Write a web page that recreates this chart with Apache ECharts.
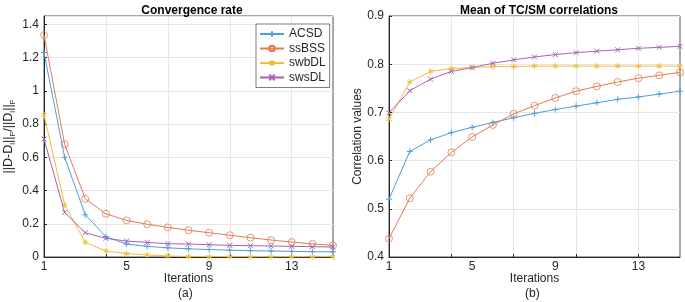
<!DOCTYPE html>
<html>
<head>
<meta charset="utf-8">
<script src="https://cdn.jsdelivr.net/npm/echarts@6/dist/echarts.min.js"></script>
<style>
  html, body { margin: 0; padding: 0; background: #fff; }
  #chart { width: 685px; height: 302px; }
</style>
</head>
<body>
<div id="chart"></div>
<script>
// ---- data ----
const iterations = ['1','2','3','4','5','6','7','8','9','10','11','12','13','14','15'];
const seriesNames = ['ACSD', 'ssBSS', 'swbDL', 'swsDL'];

// (a) Convergence rate
const acsdConv  = [1.23, 0.60, 0.254, 0.122, 0.078, 0.064, 0.055, 0.049, 0.045, 0.041, 0.038, 0.036, 0.034, 0.032, 0.031];
const ssbssConv = [1.335, 0.678, 0.35, 0.26, 0.22, 0.197, 0.178, 0.161, 0.146, 0.131, 0.116, 0.102, 0.090, 0.079, 0.070];
const swbdlConv = [0.855, 0.314, 0.088, 0.036, 0.020, 0.012, 0.006, 0.003, 0.002, 0.002, 0.001, 0.001, 0.001, 0.001, 0.001];
const swsdlConv = [0.71, 0.268, 0.146, 0.112, 0.096, 0.088, 0.080, 0.078, 0.074, 0.070, 0.068, 0.066, 0.064, 0.062, 0.060];

// (b) Mean of TC/SM correlations
const acsdCorr  = [0.520, 0.619, 0.643, 0.658, 0.669, 0.679, 0.689, 0.698, 0.706, 0.713, 0.720, 0.727, 0.732, 0.738, 0.744];
const ssbssCorr = [0.438, 0.522, 0.577, 0.617, 0.649, 0.674, 0.697, 0.714, 0.730, 0.744, 0.754, 0.763, 0.771, 0.777, 0.783];
const swbdlCorr = [0.686, 0.763, 0.785, 0.791, 0.793, 0.795, 0.795, 0.796, 0.796, 0.796, 0.796, 0.796, 0.796, 0.796, 0.796];
const swsdlCorr = [0.699, 0.745, 0.769, 0.785, 0.793, 0.802, 0.809, 0.815, 0.820, 0.824, 0.827, 0.830, 0.833, 0.835, 0.837];

// ---- styles ----
const FONT = 'Liberation Sans';
const TXT = '#262626';
const colors = ['#4a9fdc', '#e27b52', '#f2bd3a', '#a463bb'];
const symbols = [
  'path://M0,5L10,5M5,0L5,10',
  'path://M10,5A5,5,0,1,1,0,5A5,5,0,1,1,10,5Z',
  'path://M5,0L5,10M0.7,2.5L9.3,7.5M0.7,7.5L9.3,2.5',
  'path://M0,0L10,10M0,10L10,0'
];
const symSizes = [6, 7, 6, 5];

function mkSeries(name, idx, data, axisIdx) {
  const c = colors[idx];
  return {
    type: 'line', name: name, data: data,
    xAxisIndex: axisIdx, yAxisIndex: axisIdx,
    symbol: symbols[idx], symbolSize: symSizes[idx], symbolKeepAspect: true,
    showSymbol: true, showAllSymbol: true,
    color: c,
    lineStyle: { color: c, width: 1 },
    itemStyle: { color: idx === 1 ? 'rgba(255,255,255,0)' : c, borderColor: c, borderWidth: idx === 1 ? 0.8 : 1 },
    emphasis: { disabled: true },
    animation: false, z: 3 + idx
  };
}

function mkXAxis(gridIndex) {
  return {
    type: 'category', gridIndex: gridIndex, data: iterations, boundaryGap: false,
    name: 'Iterations', nameLocation: 'middle', nameGap: 16, nameMoveOverlap: false,
    nameTextStyle: { fontFamily: FONT, fontSize: 12, color: TXT },
    axisLine: { lineStyle: { color: TXT, width: 1 } },
    axisTick: { inside: true, length: 3, interval: (i) => i % 3 === 0, lineStyle: { color: TXT } },
    axisLabel: { interval: (i) => i % 4 === 0, margin: 4, fontFamily: FONT, fontSize: 12, color: TXT },
    splitLine: { show: true, interval: (i) => i % 3 === 0 && i > 0, lineStyle: { color: '#e6e6e6', width: 1 } }
  };
}

function mkYAxis(gridIndex, min, max, interval, name, gap, showMax) {
  return {
    type: 'value', gridIndex: gridIndex, min: min, max: max, interval: interval,
    name: name, nameLocation: 'middle', nameGap: gap, nameMoveOverlap: false,
    nameTextStyle: {
      fontFamily: FONT, fontSize: 12, color: TXT, lineHeight: 16,
      rich: {
        s: { fontFamily: FONT, fontSize: 8, color: TXT, verticalAlign: 'bottom', lineHeight: 16 },
        n: { fontFamily: FONT, fontSize: 12.5, color: TXT, lineHeight: 16 }
      }
    },
    axisLine: { show: true, lineStyle: { color: TXT, width: 1 } },
    axisTick: { show: true, inside: true, length: 3, lineStyle: { color: TXT } },
    axisLabel: { margin: 5, fontFamily: FONT, fontSize: 12, color: TXT, showMaxLabel: showMax,
      formatter: (v) => String(Math.round(v * 10) / 10) },
    splitLine: { show: true, lineStyle: { color: '#e6e6e6', width: 1 } }
  };
}

const chart = echarts.init(document.getElementById('chart'), null, { renderer: 'canvas' });
const option = {
  animation: false,
  backgroundColor: '#fff',
  title: [
    { text: 'Convergence rate', left: 187, top: 0, textAlign: 'center',
      textStyle: { fontFamily: FONT, fontSize: 12, fontWeight: 'bold', color: '#000' } },
    { text: 'Mean of TC/SM correlations', left: 534, top: 0, textAlign: 'center',
      textStyle: { fontFamily: FONT, fontSize: 12, fontWeight: 'bold', color: '#000' } }
  ],
  legend: {
    data: seriesNames, orient: 'vertical', left: 256, top: 24,
    itemWidth: 24, itemHeight: 7, itemGap: 0.5,
    padding: [3, 4, 3, 3],
    backgroundColor: '#fff', borderColor: TXT, borderWidth: 0.6,
    textStyle: { fontFamily: FONT, fontSize: 12, color: TXT, lineHeight: 14 },
    selectedMode: false
  },
  grid: [
    { left: 42, top: 16, width: 291, height: 241, show: true, borderColor: TXT, borderWidth: 0.8, containLabel: false },
    { left: 389, top: 16, width: 291, height: 241, show: true, borderColor: TXT, borderWidth: 0.8, containLabel: false }
  ],
  xAxis: [mkXAxis(0), mkXAxis(1)],
  yAxis: [
    mkYAxis(0, 0, 1.45, 0.2, '{n|||D-D}{s|l}{n|||}{s|F}{n|/||D}{s|l}{n|||}{s|F}', 27, false),
    mkYAxis(1, 0.4, 0.9, 0.1, 'Correlation values', 23, true)
  ],
  graphic: [
    { type: 'text', left: 178, top: 288, style: { text: '(a)', font: '12px "Liberation Sans"', fill: TXT } },
    { type: 'text', left: 525, top: 288, style: { text: '(b)', font: '12px "Liberation Sans"', fill: TXT } }
  ],
  series: [
    mkSeries(seriesNames[0], 0, acsdConv, 0),
    mkSeries(seriesNames[1], 1, ssbssConv, 0),
    mkSeries(seriesNames[2], 2, swbdlConv, 0),
    mkSeries(seriesNames[3], 3, swsdlConv, 0),
    mkSeries(seriesNames[0], 0, acsdCorr, 1),
    mkSeries(seriesNames[1], 1, ssbssCorr, 1),
    mkSeries(seriesNames[2], 2, swbdlCorr, 1),
    mkSeries(seriesNames[3], 3, swsdlCorr, 1)
  ]
};
chart.setOption(option);
</script>
</body>
</html>
